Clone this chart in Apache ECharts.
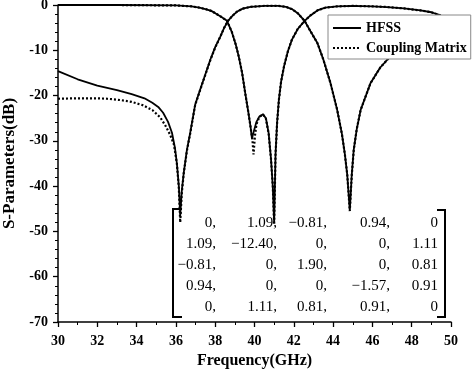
<!DOCTYPE html>
<html><head><meta charset="utf-8">
<script src="https://cdn.jsdelivr.net/npm/echarts@6/dist/echarts.min.js"></script>
<style>html,body{margin:0;padding:0;background:#fff}#c{width:474px;height:373px}</style>
</head><body><div id="c"></div>
<script>
// ---- data ----
const xTicks = [30,32,34,36,38,40,42,44,46,48,50];
const yTicks = [0,-10,-20,-30,-40,-50,-60,-70];
const legendNames = ['HFSS','Coupling Matrix'];

const hfssS21 = [[30,-14.6],[31,-16.4],[32,-17.8],[33,-18.8],[33.75,-19.7],[34.4,-20.6],[34.8,-21.6],[35.1,-22.5],[35.35,-23.8],[35.6,-25.8],[35.8,-28.2],[35.95,-31.5],[36.05,-35],[36.15,-40],[36.22,-46.5],[36.3,-41],[36.4,-37],[36.56,-32],[36.73,-28.2],[36.98,-22],[37.24,-18.6],[37.5,-15.3],[37.75,-12.1],[38,-9.3],[38.26,-7],[38.45,-5.1],[38.65,-3.5],[38.9,-2.3],[39.1,-1.5],[39.4,-0.8],[39.8,-0.4],[40.5,-0.2],[41.2,-0.2],[41.6,-0.4],[41.9,-0.9],[42.2,-1.8],[42.55,-3.5],[42.85,-5.8],[43.2,-8.4],[43.5,-12],[43.87,-17.3],[44.2,-23],[44.45,-28.5],[44.6,-33],[44.72,-37.5],[44.85,-45.3],[44.95,-37.5],[45.05,-32],[45.2,-27.5],[45.4,-23.2],[45.9,-17.3],[46.4,-13.8],[46.9,-11.4],[47.5,-9.5],[48,-8.3],[49,-6.6],[50,-5.6]];
const hfssS11 = [[30,0],[33,0],[36,-0.1],[36.8,-0.3],[37.2,-0.6],[37.5,-0.9],[37.8,-1.3],[38.0,-1.8],[38.3,-2.6],[38.6,-3.5],[38.85,-6],[39.05,-8.8],[39.2,-11.4],[39.37,-15],[39.53,-19.5],[39.68,-23.5],[39.8,-26.9],[39.87,-29.5],[39.97,-27.8],[40.1,-25.8],[40.25,-24.6],[40.43,-24.1],[40.58,-25],[40.72,-28.3],[40.84,-34],[40.93,-40],[41.0,-48],[41.07,-33],[41.15,-26],[41.24,-21],[41.35,-17],[41.5,-13.6],[41.7,-10.2],[41.9,-7.7],[42.2,-5.3],[42.55,-3.5],[42.85,-2.3],[43.2,-1.2],[43.6,-0.6],[44.2,-0.3],[45,-0.2],[46,-0.3],[46.75,-0.45],[47.6,-0.75],[48.45,-1.2],[49,-1.6],[49.4,-2.2],[50,-3.3]];
const cmS21 = [[30,-20.7],[31,-20.6],[32,-20.6],[32.5,-20.7],[33.2,-21],[33.75,-21.4],[34.3,-22.1],[34.8,-23.2],[35.2,-24.8],[35.45,-26.5],[35.7,-28.6],[35.9,-30.8],[36.05,-35],[36.15,-40.5],[36.22,-48],[36.3,-41.5],[36.4,-37.2],[36.56,-32.2],[36.73,-28.3],[36.98,-22.1],[37.24,-18.7],[37.5,-15.4],[37.75,-12.2],[38,-9.4],[38.26,-7],[38.45,-5.1],[38.65,-3.5],[38.9,-2.3],[39.1,-1.5],[39.4,-0.8],[39.8,-0.4],[40.5,-0.2],[41.2,-0.2],[41.6,-0.4],[41.9,-0.9],[42.2,-1.8],[42.55,-3.5],[42.85,-5.8],[43.2,-8.4],[43.5,-12],[43.87,-17.3],[44.2,-23],[44.45,-28.5],[44.6,-33],[44.72,-37.5],[44.85,-45.5],[44.95,-37.5],[45.05,-32],[45.2,-27.5],[45.4,-23.2],[45.9,-17.3],[46.4,-13.8],[46.9,-11.4],[47.5,-9.5],[48,-8.3],[49,-6.6],[50,-5.6]];
const cmS11 = [[30,0],[33,0],[36,-0.1],[36.8,-0.3],[37.2,-0.6],[37.5,-0.9],[37.8,-1.3],[38.0,-1.8],[38.3,-2.6],[38.6,-3.5],[38.85,-6],[39.05,-8.8],[39.2,-11.4],[39.37,-15],[39.53,-19.5],[39.68,-23.5],[39.8,-27],[39.9,-30],[39.95,-33],[40.02,-29],[40.1,-26.3],[40.25,-24.7],[40.43,-24.2],[40.58,-25.1],[40.72,-28.4],[40.84,-34],[40.93,-40],[41.0,-48.5],[41.07,-33],[41.15,-26],[41.24,-21],[41.35,-17],[41.5,-13.6],[41.7,-10.2],[41.9,-7.7],[42.2,-5.3],[42.55,-3.5],[42.85,-2.3],[43.2,-1.2],[43.6,-0.6],[44.2,-0.3],[45,-0.2],[46,-0.3],[46.75,-0.45],[47.6,-0.75],[48.45,-1.2],[49,-1.6],[49.4,-2.2],[50,-3.3]];

const matrixRow1 = [0, 1.09, -0.81, 0.94, 0];
const matrixRow2 = [1.09, -12.40, 0, 0, 1.11];
const matrixRow3 = [-0.81, 0, 1.90, 0, 0.81];
const matrixRow4 = [0.94, 0, 0, -1.57, 0.91];
const matrixRow5 = [0, 1.11, 0.81, 0.91, 0];
const matrixRows = [matrixRow1, matrixRow2, matrixRow3, matrixRow4, matrixRow5];

// ---- chart ----
const chart = echarts.init(document.getElementById('c'), null, {renderer:'canvas'});
const serif = '"Liberation Serif","Times New Roman",serif';
const axisCommon = {
  axisLine:{show:true, onZero:false, lineStyle:{color:'#000', width:1.5}},
  axisTick:{show:true, inside:false, length:5, lineStyle:{color:'#000', width:1.3}},
  splitLine:{show:false},
  axisLabel:{color:'#000', fontFamily:serif, fontWeight:'bold', fontSize:14}
};

function fmt(v){ if(v===0) return '0'; const s=Math.abs(v).toFixed(2); return (v<0?'\u2212':'')+s; }

const colX = [216, 277, 327, 390, 438];
const rowY = [223, 244, 265, 286, 307];
const gElems = [];
matrixRows.forEach((row, r) => {
  row.forEach((v, c) => {
    gElems.push({type:'text', x:colX[c], y:rowY[r], z:10,
      style:{text: fmt(v) + (c<4?',':''), fill:'#000', font:'15px "Liberation Serif", serif', textAlign:'right', textVerticalAlign:'middle'}});
  });
});
gElems.push({type:'polyline', z:10, shape:{points:[[182,209],[173,209],[173,317],[182,317]]}, style:{stroke:'#000', lineWidth:2, fill:null}});
gElems.push({type:'polyline', z:10, shape:{points:[[437,210],[445,210],[445,317],[437,317]]}, style:{stroke:'#000', lineWidth:2, fill:null}});

const solid = {type:'solid', width:1.8, color:'#000'};
const dotted = {type:[2,2], width:2.2, color:'#000'};

chart.setOption({
  animation:false,
  backgroundColor:'#fff',
  grid:{left:58, right:23, top:5, bottom:51, containLabel:false, outerBoundsMode:'none'},
  legend:{
    data:legendNames, orient:'vertical', left:328, top:15,
    itemWidth:28, itemHeight:12, itemGap:6, padding:[6,4,4,4],
    backgroundColor:'#fff', borderColor:'#888', borderWidth:1,
    itemStyle:{opacity:0},
    textStyle:{color:'#000', fontFamily:serif, fontWeight:'bold', fontSize:14}
  },
  xAxis:Object.assign({}, axisCommon, {type:'value', min:30, max:50, interval:2,
    minorTick:{show:true, splitNumber:2, length:3, lineStyle:{color:'#000', width:1}},
    name:'Frequency(GHz)', nameLocation:'middle', nameGap:27,
    nameTextStyle:{color:'#000', fontFamily:serif, fontWeight:'bold', fontSize:16},
    axisLabel:Object.assign({}, axisCommon.axisLabel, {margin:12, customValues:xTicks})}),
  yAxis:Object.assign({}, axisCommon, {type:'value', min:-70, max:0, interval:10,
    minorTick:{show:true, splitNumber:5, length:3, lineStyle:{color:'#000', width:1}},
    name:'S-Parameters(dB)', nameLocation:'middle', nameGap:38, nameRotate:90,
    nameTextStyle:{color:'#000', fontFamily:serif, fontWeight:'bold', fontSize:17},
    axisLabel:Object.assign({}, axisCommon.axisLabel, {margin:10})}),
  series:[
    {name:'HFSS', type:'line', data:hfssS21, symbol:'none', showSymbol:false, lineStyle:solid, itemStyle:{color:'#000'}, z:2},
    {name:'HFSS', type:'line', data:hfssS11, symbol:'none', showSymbol:false, lineStyle:solid, itemStyle:{color:'#000'}, z:2},
    {name:'Coupling Matrix', type:'line', data:cmS21, symbol:'none', showSymbol:false, lineStyle:dotted, itemStyle:{color:'#000'}, z:3},
    {name:'Coupling Matrix', type:'line', data:cmS11, symbol:'none', showSymbol:false, lineStyle:dotted, itemStyle:{color:'#000'}, z:3}
  ],
  graphic:gElems
});
</script>
</body></html>
